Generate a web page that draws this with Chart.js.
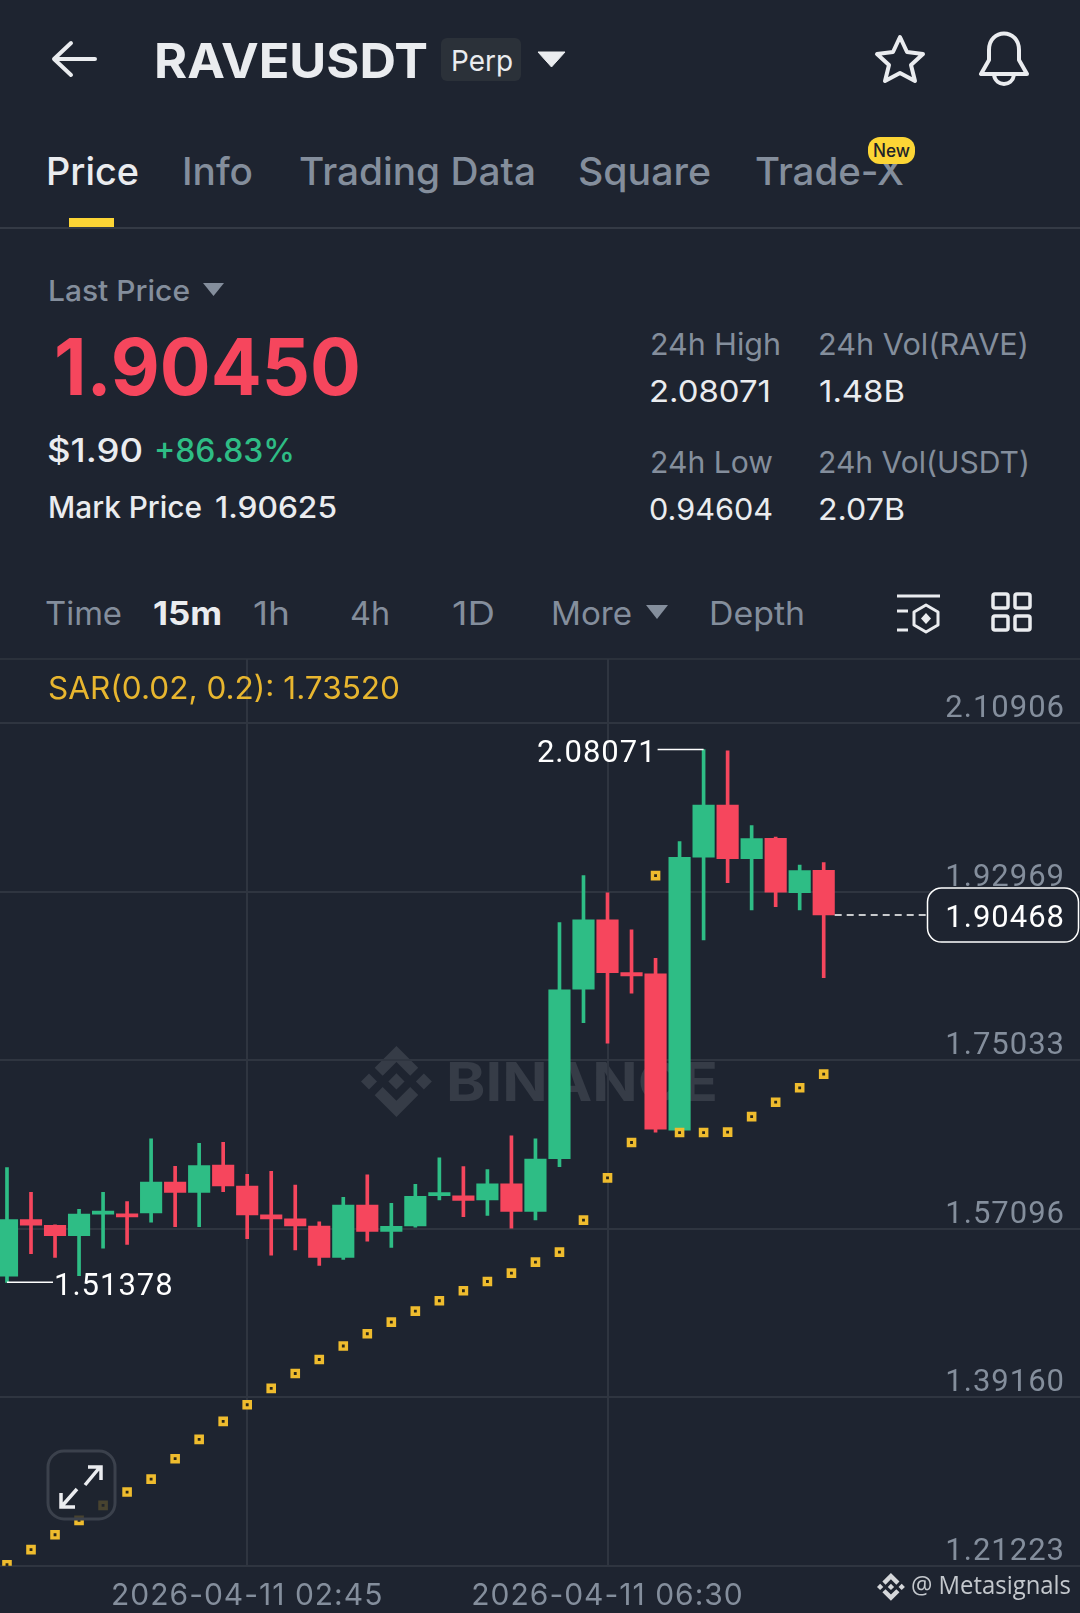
<!DOCTYPE html>
<html>
<head>
<meta charset="utf-8">
<title>RAVEUSDT</title>
<script src="https://cdn.jsdelivr.net/npm/chart.js@4"></script>
<style>
  html, body { margin: 0; padding: 0; background: #1e2430; }
  body { width: 1080px; height: 1613px; position: relative; overflow: hidden; }
  svg { position: absolute; left: 0; top: 0; }
  svg text { font-family: Inter, Roboto, sans-serif; }
  #mychart { position: absolute; left: 0; top: 659px; }
  .gray { fill: #848e9c; }
  .white { fill: #eaecef; }
</style>
</head>
<body>

<svg width="1080" height="1613">
  <defs>
    <g id="bnblogo">
      <path d="M38.73,53.2 L63.3,28.63 l24.59,24.59 14.3-14.3 L63.3,0 24.43,38.9z"/>
      <path d="M0,63.31 L14.3,49 28.6,63.31 14.3,77.61z"/>
      <path d="M38.73,73.41 L63.3,97.97 l24.59-24.59 14.31,14.29 L63.3,126.61 24.43,87.73z"/>
      <path d="M98.01,63.31 L112.31,49 126.61,63.31 112.31,77.61z"/>
      <path d="M77.77,63.3 L63.3,48.81 48.83,63.28 63.3,77.76z"/>
    </g>
  </defs>

  <!-- top bar -->
  <path d="M95 59 H55 M71 43 L54 59 L71 75" fill="none" stroke="#eaecef" stroke-width="4" stroke-linecap="round" stroke-linejoin="round"/>
  <text x="154" y="78" font-size="48" font-weight="700" class="white" textLength="274" lengthAdjust="spacingAndGlyphs">RAVEUSDT</text>
  <rect x="441" y="38" width="80" height="43" rx="6" fill="#2b3139"/>
  <text x="451" y="71" font-size="29" class="white" textLength="62" lengthAdjust="spacingAndGlyphs">Perp</text>
  <path d="M538 52 H565 L551.5 67z" fill="#eaecef" stroke="#eaecef" stroke-width="1" stroke-linejoin="round"/>
  <path d="M900 37 L907 52 L923 54 L911 65 L915 81 L900 73 L885 81 L889 65 L877 54 L893 52z" fill="none" stroke="#eaecef" stroke-width="4" stroke-linejoin="round"/>
  <path d="M981 74 H1027 L1019 60 V50 C1019 28 989 28 989 50 V60z M994 75 C996 87 1012 87 1014 75" fill="none" stroke="#eaecef" stroke-width="4" stroke-linejoin="round"/>

  <!-- tabs -->
  <text x="46" y="185" font-size="38" font-weight="500" class="white" textLength="93" lengthAdjust="spacingAndGlyphs">Price</text>
  <text x="182" y="185" font-size="38" font-weight="500" class="gray" textLength="71" lengthAdjust="spacingAndGlyphs">Info</text>
  <text x="299" y="185" font-size="38" font-weight="500" class="gray" textLength="237" lengthAdjust="spacingAndGlyphs">Trading Data</text>
  <text x="578" y="185" font-size="38" font-weight="500" class="gray" textLength="133" lengthAdjust="spacingAndGlyphs">Square</text>
  <text x="755" y="185" font-size="38" font-weight="500" class="gray" textLength="149" lengthAdjust="spacingAndGlyphs">Trade-X</text>
  <rect x="868" y="137" width="47" height="27" rx="12" fill="#fcd535"/>
  <text x="873" y="157" font-size="18" font-weight="500" fill="#1e2329" textLength="37" lengthAdjust="spacingAndGlyphs">New</text>
  <rect x="69" y="218" width="45" height="9" fill="#fcd535"/>
  <rect x="0" y="227" width="1080" height="2" fill="#343a45"/>

  <!-- price block -->
  <text x="48" y="301" font-size="29" font-weight="500" class="gray" textLength="142" lengthAdjust="spacingAndGlyphs">Last Price</text>
  <path d="M203 283 H224 L213.5 296z" fill="#848e9c"/>
  <text x="54" y="395" font-size="78" font-weight="700" fill="#f6465d" textLength="307" lengthAdjust="spacingAndGlyphs">1.90450</text>
  <text x="47" y="462" font-size="32" font-weight="500" class="white" textLength="96" lengthAdjust="spacingAndGlyphs">$1.90</text>
  <text x="154" y="462" font-size="32" font-weight="500" fill="#2ebd85" textLength="141" lengthAdjust="spacingAndGlyphs">+86.83%</text>
  <text x="48" y="518" font-size="30" font-weight="500" class="white" textLength="154" lengthAdjust="spacingAndGlyphs">Mark Price</text>
  <text x="215" y="518" font-size="30" font-weight="500" class="white" textLength="122" lengthAdjust="spacingAndGlyphs">1.90625</text>

  <text x="650" y="355" font-size="30" class="gray" textLength="131" lengthAdjust="spacingAndGlyphs">24h High</text>
  <text x="818" y="355" font-size="30" class="gray" textLength="211" lengthAdjust="spacingAndGlyphs">24h Vol(RAVE)</text>
  <text x="649" y="402" font-size="30" class="white" textLength="122" lengthAdjust="spacingAndGlyphs">2.08071</text>
  <text x="819" y="402" font-size="30" class="white" textLength="86" lengthAdjust="spacingAndGlyphs">1.48B</text>
  <text x="650" y="473" font-size="30" class="gray" textLength="123" lengthAdjust="spacingAndGlyphs">24h Low</text>
  <text x="818" y="473" font-size="30" class="gray" textLength="212" lengthAdjust="spacingAndGlyphs">24h Vol(USDT)</text>
  <text x="649" y="520" font-size="30" class="white" textLength="124" lengthAdjust="spacingAndGlyphs">0.94604</text>
  <text x="818" y="520" font-size="30" class="white" textLength="87" lengthAdjust="spacingAndGlyphs">2.07B</text>

  <!-- interval row -->
  <text x="45" y="625" font-size="32" class="gray" textLength="77" lengthAdjust="spacingAndGlyphs">Time</text>
  <text x="153" y="625" font-size="32" font-weight="700" class="white" textLength="69" lengthAdjust="spacingAndGlyphs">15m</text>
  <text x="253" y="625" font-size="32" class="gray" textLength="37" lengthAdjust="spacingAndGlyphs">1h</text>
  <text x="350" y="625" font-size="32" class="gray" textLength="40" lengthAdjust="spacingAndGlyphs">4h</text>
  <text x="452" y="625" font-size="32" class="gray" textLength="43" lengthAdjust="spacingAndGlyphs">1D</text>
  <text x="551" y="625" font-size="32" class="gray" textLength="81" lengthAdjust="spacingAndGlyphs">More</text>
  <path d="M646 605 H668 L657 619z" fill="#848e9c"/>
  <text x="709" y="625" font-size="32" class="gray" textLength="96" lengthAdjust="spacingAndGlyphs">Depth</text>
  <path d="M897 596 H940 M897 611 H908 M897 630 H908" stroke="#eaecef" stroke-width="3" fill="none"/>
  <path d="M926 605 L938 612 V625 L926 632 L914 625 V612z" stroke="#eaecef" stroke-width="3" fill="none" stroke-linejoin="round"/>
  <path d="M926 613 L931 618.5 L926 624 L921 618.5z" fill="#eaecef"/>
  <g fill="none" stroke="#eaecef" stroke-width="3.5">
    <rect x="993" y="594" width="15" height="14" rx="2"/>
    <rect x="1015" y="594" width="15" height="14" rx="2"/>
    <rect x="993" y="616" width="15" height="14" rx="2"/>
    <rect x="1015" y="616" width="15" height="14" rx="2"/>
  </g>
  <rect x="0" y="658" width="1080" height="2" fill="#2b313b"/>

  <!-- watermark, sits under the chart canvas -->
  <use href="#bnblogo" transform="translate(361,1046) scale(0.56)" fill="#363c47"/>
  <text x="446" y="1101" font-size="54" font-weight="700" fill="#363c47" textLength="272" lengthAdjust="spacingAndGlyphs">BINANCE</text>
</svg>

<canvas id="mychart" width="1080" height="954"></canvas>

<svg width="1080" height="1613" style="pointer-events:none">
  <text x="48" y="699" font-size="31" fill="#e8b62f" textLength="352" lengthAdjust="spacingAndGlyphs">SAR(0.02, 0.2): 1.73520</text>
  <rect x="48" y="1451" width="67" height="68" rx="16" fill="rgba(30,36,48,0.8)" stroke="#3b414c" stroke-width="3"/>
  <g fill="none" stroke="#eaecef" stroke-width="3.5">
    <path d="M85 1485 L100 1467 M88 1467 H101 V1480"/>
    <path d="M77 1489 L62 1506 M61 1493 V1507 H75"/>
  </g>
  <use href="#bnblogo" transform="translate(877,1573) scale(0.22)" fill="#d5d7da"/>
  <text x="911" y="1594" font-size="25" fill="#c4c8cd" style="font-family:'Open Sans'" textLength="160" lengthAdjust="spacingAndGlyphs">@ Metasignals</text>
</svg>

<script>
// RAVEUSDT 15m candles. index 0 = 00:15
var opens  = [1.5204,1.5806,1.5745,1.5635,1.5864,1.5867,1.5876,1.6205,1.6096,1.6385,1.6161,1.5855,1.5814,1.5737,1.5403,1.5961,1.5680,1.5737,1.6059,1.6059,1.6016,1.6186,1.5892,1.6455,1.8258,1.8995,1.8434,1.8420,1.6758,1.9662,2.0218,1.9647,1.9864,1.9285,1.9523];
var closes = [1.5807,1.5745,1.5635,1.5864,1.5896,1.5835,1.6205,1.6096,1.6381,1.6165,1.5855,1.5814,1.5737,1.5403,1.5961,1.5680,1.5733,1.6054,1.6094,1.6009,1.6186,1.5892,1.6449,1.8250,1.8995,1.8434,1.8399,1.6768,1.9662,2.0218,1.9647,1.9860,1.9289,1.9519,1.90468];
var highs  = [1.6360,1.6096,1.5750,1.5916,1.6096,1.5998,1.6665,1.6372,1.6617,1.6629,1.6286,1.6319,1.6172,1.5782,1.6043,1.6282,1.5978,1.6181,1.6463,1.6371,1.6338,1.6697,1.6665,1.8966,1.9466,1.9282,1.8888,1.8587,1.9828,2.08071,2.0793,1.9998,1.9875,1.9577,1.9604];
var lows   = [1.51378,1.5444,1.5403,1.5208,1.5501,1.5542,1.5778,1.5729,1.5729,1.6103,1.5603,1.5428,1.5484,1.5318,1.5383,1.5575,1.5510,1.5725,1.6016,1.5838,1.5849,1.5715,1.5803,1.6370,1.7902,1.7683,1.8215,1.6736,1.6758,1.8782,1.9392,1.9101,1.9136,1.9101,1.8381];
var sar    = [1.2133,1.2293,1.2452,1.2604,1.2764,1.2906,1.3044,1.3261,1.3466,1.3658,1.3835,1.4009,1.4168,1.4317,1.4460,1.4591,1.4715,1.4832,1.4942,1.5048,1.5147,1.5236,1.5353,1.5460,1.5800,1.6250,1.6626,1.9466,1.6732,1.6732,1.6736,1.6902,1.7055,1.7208,1.7353];

var priceTicks = [2.10906,1.92969,1.75033,1.57096,1.39160,1.21223];
var timeTickIdx = [10, 25];
var timeTickLabels = ["2026-04-11 02:45", "2026-04-11 06:30"];

var highLabel = 2.08071, highIdx = 29;
var lowLabel = 1.51378, lowIdx = 0;
var lastPrice = 1.90468, lastIdx = 34;

var green = "#2ebd85", red = "#f6465d", bg = "#1e2430", gridCol = "#2f3540";

function candleColors() {
  var c = [];
  for (var i = 0; i < opens.length; i++) {
    c.push(closes[i] >= opens[i] ? green : red);
  }
  return c;
}

var bodies = [], wicks = [], dots = [];
for (var i = 0; i < opens.length; i++) {
  bodies.push({x: i, y: [opens[i], closes[i]]});
  wicks.push({x: i, y: [lows[i], highs[i]]});
  dots.push({x: i, y: sar[i]});
}

// hi/lo callouts and the last price tag
var callouts = {
  id: "callouts",
  beforeDraw: function(chart) {
    chart.ctx.letterSpacing = "1px";
  },
  afterDatasetsDraw: function(chart) {
    var ctx = chart.ctx, x = chart.scales.x, y = chart.scales.y;
    ctx.save();
    ctx.font = "31px Roboto";
    ctx.fillStyle = "#ffffff";
    ctx.strokeStyle = "#ffffff";
    ctx.lineWidth = 1.5;
    ctx.textBaseline = "alphabetic";

    var hx = x.getPixelForValue(highIdx), hy = y.getPixelForValue(highLabel);
    ctx.beginPath(); ctx.moveTo(hx, hy); ctx.lineTo(hx - 46, hy); ctx.stroke();
    ctx.textAlign = "right";
    ctx.fillText(highLabel.toFixed(5), hx - 47, hy + 12);

    var lx = x.getPixelForValue(lowIdx), ly = y.getPixelForValue(lowLabel);
    ctx.beginPath(); ctx.moveTo(lx, ly); ctx.lineTo(lx + 46, ly); ctx.stroke();
    ctx.textAlign = "left";
    ctx.fillText(lowLabel.toFixed(5), lx + 47, ly + 13);

    var px = x.getPixelForValue(lastIdx), py = y.getPixelForValue(lastPrice);
    ctx.setLineDash([7, 5]);
    ctx.beginPath(); ctx.moveTo(px + 11, py); ctx.lineTo(927, py); ctx.stroke();
    ctx.setLineDash([]);
    ctx.beginPath();
    ctx.roundRect(927.5, py - 27, 151, 54, 14);
    ctx.fillStyle = bg;
    ctx.fill();
    ctx.stroke();
    ctx.fillStyle = "#ffffff";
    ctx.textAlign = "right";
    ctx.fillText(lastPrice.toFixed(5), 1065, py + 12);
    ctx.restore();
  }
};

var ctx = document.getElementById("mychart");
var colors = candleColors();

var myChart = new Chart(ctx, {
  type: "bar",
  data: {
    datasets: [
      {
        type: "scatter",
        label: "SAR",
        data: dots,
        showLine: false,
        pointStyle: "rect",
        pointRadius: 4.4,
        backgroundColor: "#2a2617",
        borderColor: "#efbc2e",
        borderWidth: 3.4,
        order: 0
      },
      {
        label: "body",
        data: bodies,
        backgroundColor: colors,
        barThickness: 21.5,
        grouped: false,
        order: 1
      },
      {
        label: "wick",
        data: wicks,
        backgroundColor: colors,
        barThickness: 3,
        grouped: false,
        order: 2
      }
    ]
  },
  options: {
    responsive: false,
    animation: false,
    devicePixelRatio: 1,
    layout: { padding: 0, autoPadding: false },
    plugins: { legend: { display: false }, tooltip: { enabled: false } },
    scales: {
      x: {
        type: "linear",
        offset: false,
        min: -0.291,
        max: 44.67,
        afterBuildTicks: function(axis) {
          axis.ticks = timeTickIdx.map(function(v) { return {value: v}; });
        },
        afterFit: function(axis) {
          axis.height = 47.3;
          axis.paddingLeft = 0;
          axis.paddingRight = 0;
        },
        grid: { color: gridCol, lineWidth: 2, drawTicks: false, offset: false },
        border: { display: false },
        ticks: {
          autoSkip: false,
          maxRotation: 0,
          padding: 12,
          color: "#848e9c",
          font: { family: "Inter", size: 30 },
          callback: function(v) { return timeTickLabels[timeTickIdx.indexOf(v)]; }
        }
      },
      y: {
        type: "linear",
        position: "right",
        min: 1.21223,
        max: 2.17714,
        afterBuildTicks: function(axis) {
          axis.ticks = priceTicks.map(function(v) { return {value: v}; });
        },
        afterFit: function(axis) {
          axis.width = 0;
          axis.paddingTop = 0;
          axis.paddingBottom = 0;
        },
        grid: { color: gridCol, lineWidth: 2, drawTicks: false },
        border: { display: false },
        ticks: {
          mirror: true,
          align: "end",
          padding: -15,
          labelOffset: 2,
          color: "#848e9c",
          font: { family: "Roboto", size: 31 },
          callback: function(v) { return v.toFixed(5); }
        }
      }
    }
  },
  plugins: [callouts]
});
</script>
</body>
</html>
